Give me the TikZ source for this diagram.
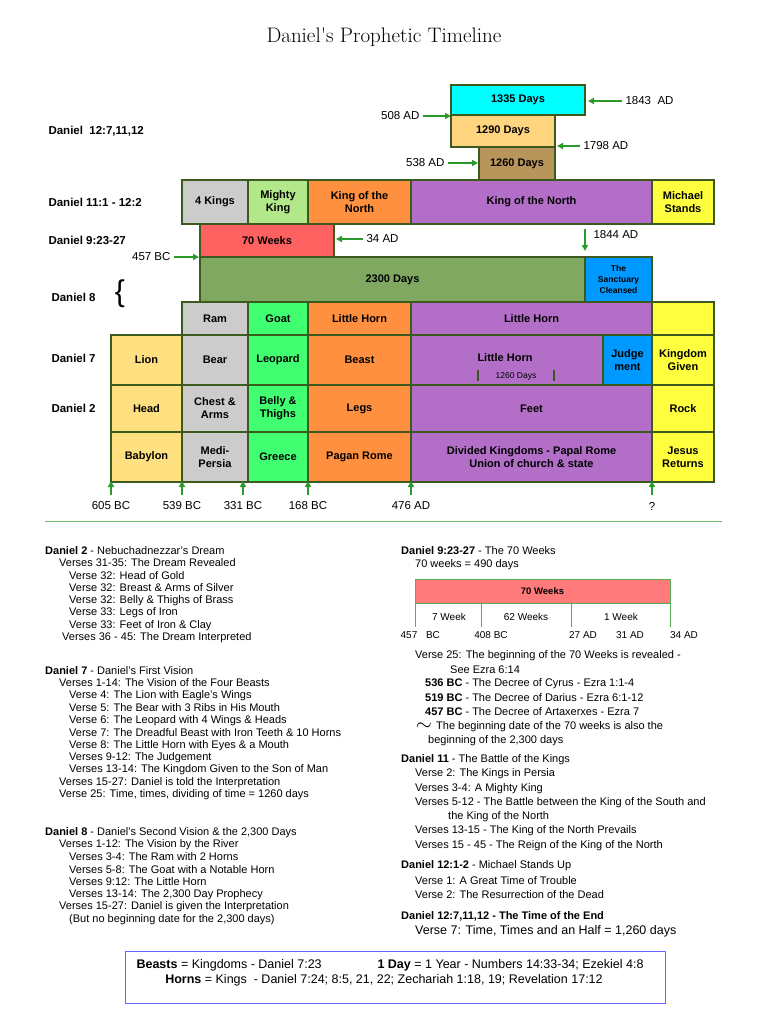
\documentclass[tikz,border=0pt]{standalone}
\usepackage{fontspec}
\setmainfont{Liberation Sans}
\newfontfamily\titlefont{Latin Modern Roman}
\usetikzlibrary{arrows.meta}
\definecolor{edge}{HTML}{3D5A1E}
\definecolor{arr}{HTML}{2A9A2A}
\definecolor{cgray}{HTML}{CCCCCC}
\definecolor{clgreen}{HTML}{B3E88A}
\definecolor{cgreen}{HTML}{40FF70}
\definecolor{corange}{HTML}{FF9040}
\definecolor{cpurple}{HTML}{B36FC8}
\definecolor{cyellow}{HTML}{FFFF40}
\definecolor{cred}{HTML}{FF6060}
\definecolor{colive}{HTML}{80A860}
\definecolor{cblue}{HTML}{0099FF}
\definecolor{clion}{HTML}{FFE080}
\definecolor{ccyan}{HTML}{00FFFF}
\definecolor{cpeach}{HTML}{FFD580}
\definecolor{cbrown}{HTML}{B8955A}
\definecolor{cpink}{HTML}{FF7B7B}
\begin{document}
\begin{tikzpicture}[x=1pt, y=-1pt,
    box/.style={draw=edge, line width=2.2pt},
    lbl/.style={font=\fontsize{11}{13}\selectfont\bfseries, align=center},
    tag/.style={font=\fontsize{11.5}{13}\selectfont},
    side/.style={font=\fontsize{11.5}{13}\selectfont\bfseries, anchor=west},
    body/.style={font=\fontsize{11}{12}\selectfont, anchor=west, inner sep=0pt},
    small/.style={font=\fontsize{10}{11}\selectfont},
    garr/.style={-{Triangle[length=6pt,width=6pt]}, draw=arr, line width=2pt}]

    \useasboundingbox (0,0) rectangle (768,1024);
    \node[font=\titlefont\fontsize{21}{24}\selectfont] (title) at (384,37) {Daniel's Prophetic Timeline};

    % top periods
    \draw[box, fill=ccyan] (451,85) rectangle node[lbl] {1335 Days} (585,115);
    \draw[box, fill=cpeach] (451,115) rectangle node[lbl] {1290 Days} (555,147);
    \draw[box, fill=cbrown] (479,147) rectangle node[lbl] {1260 Days} (555,180);

    % Daniel 11
    \draw[box, fill=cgray] (182,180) rectangle node[lbl] {4 Kings} (248,224);
    \draw[box, fill=clgreen] (248,180) rectangle node[lbl] {Mighty\\King} (308,224);
    \draw[box, fill=corange] (308,180) rectangle node[lbl] {King of the\\North} (411,224);
    \draw[box, fill=cpurple] (411,180) rectangle node[lbl] {King of the North} (652,224);
    \draw[box, fill=cyellow] (652,180) rectangle node[lbl] {Michael\\Stands} (714,224);

    % Daniel 9 and 8
    \draw[box, fill=cred] (200,224) rectangle node[lbl] {70 Weeks} (334,257);
    \draw[box, fill=colive] (200,257) rectangle node[lbl] {2300 Days} (585,302);
    \draw[box, fill=cblue] (585,257) rectangle node[lbl, font=\fontsize{8.5}{11}\selectfont\bfseries] {The\\Sanctuary\\Cleansed} (652,302);
    \draw[box, fill=cgray] (182,302) rectangle node[lbl] {Ram} (248,335);
    \draw[box, fill=cgreen] (248,302) rectangle node[lbl] {Goat} (308,335);
    \draw[box, fill=corange] (308,302) rectangle node[lbl] {Little Horn} (411,335);
    \draw[box, fill=cpurple] (411,302) rectangle node[lbl] {Little Horn} (652,335);
    \draw[box, fill=cyellow] (652,302) rectangle (714,335);

    % Daniel 7
    \draw[box, fill=clion] (111,335) rectangle node[lbl] {Lion} (182,385);
    \draw[box, fill=cgray] (182,335) rectangle node[lbl] {Bear} (248,385);
    \draw[box, fill=cgreen] (248,335) rectangle node[lbl] {Leopard} (308,385);
    \draw[box, fill=corange] (308,335) rectangle node[lbl] {Beast} (411,385);
    \draw[box, fill=cpurple] (411,335) rectangle (603,385);
    \node[lbl] (horn) at (505,358) {Little Horn};
    \node[tag, font=\fontsize{8.5}{10}\selectfont] (days) at (516,376) {1260 Days};
    \draw[edge, line width=1.5pt] (478,370) -- (478,381) (554,370) -- (554,381);
    \draw[box, fill=cblue] (603,335) rectangle node[lbl] {Judge\\ment} (652,385);
    \draw[box, fill=cyellow] (652,335) rectangle node[lbl] {Kingdom\\Given} (714,385);

    % Daniel 2
    \draw[box, fill=clion] (111,385) rectangle node[lbl] {Head} (182,432);
    \draw[box, fill=cgray] (182,385) rectangle node[lbl] {Chest \&\\Arms} (248,432);
    \draw[box, fill=cgreen] (248,385) rectangle node[lbl] {Belly \&\\Thighs} (308,432);
    \draw[box, fill=corange] (308,385) rectangle node[lbl] {Legs} (411,432);
    \draw[box, fill=cpurple] (411,385) rectangle node[lbl] {Feet} (652,432);
    \draw[box, fill=cyellow] (652,385) rectangle node[lbl] {Rock} (714,432);

    % kingdoms
    \draw[box, fill=clion] (111,432) rectangle node[lbl] {Babylon} (182,482);
    \draw[box, fill=cgray] (182,432) rectangle node[lbl] {Medi-\\Persia} (248,482);
    \draw[box, fill=cgreen] (248,432) rectangle node[lbl] {Greece} (308,482);
    \draw[box, fill=corange] (308,432) rectangle node[lbl] {Pagan Rome} (411,482);
    \draw[box, fill=cpurple] (411,432) rectangle node[lbl] {Divided Kingdoms - Papal Rome\\Union of church \& state} (652,482);
    \draw[box, fill=cyellow] (652,432) rectangle node[lbl] {Jesus\\Returns} (714,482);

    % chapter labels
    \node[side] (d12) at (45,131) {Daniel\ \ 12:7,11,12};
    \node[side] (d11) at (45,202) {Daniel 11:1 - 12:2};
    \node[side] (d9) at (45,240) {Daniel 9:23-27};
    \node[side] (d8) at (48,297) {Daniel 8};
    \node[font=\fontsize{30}{30}\selectfont] (brace) at (120,294) {\{};
    \node[side] (d7) at (48,358) {Daniel 7};
    \node[side] (d2) at (48,408) {Daniel 2};

    % dates
    \node[tag, anchor=east] (a508) at (423,116) {508 AD};
    \draw[garr] (a508) -- (451,116);
    \node[tag, anchor=west] (a1843) at (622,101) {1843\ \ AD};
    \draw[garr] (a1843) -- (588,101);
    \node[tag, anchor=west] (a1798) at (580,146) {1798 AD};
    \draw[garr] (a1798) -- (557,146);
    \node[tag, anchor=east] (a538) at (448,163) {538 AD};
    \draw[garr] (a538) -- (478,163);
    \node[tag, anchor=west] (a34) at (363,239) {34 AD};
    \draw[garr] (a34) -- (336,239);
    \node[tag, anchor=west] (a1844) at (590,235) {1844 AD};
    \draw[garr] (585,229) -- (585,251);
    \node[tag, anchor=east] (b457) at (174,257) {457 BC};
    \draw[garr] (b457) -- (199,257);
    \foreach \x/\d in {111/605 BC, 182/539 BC, 243/331 BC, 308/168 BC, 411/476 AD, 652/?}
    {
        \node[tag] (d\x) at (\x,506) {\d};
        \draw[garr] (\x,495) -- (\x,481);
    }

    \draw[arr!70, line width=1pt] (45,521) -- (722,521);

    % left notes
    \foreach \y/\x/\s in {
        551/45/{\textbf{Daniel 2} - Nebuchadnezzar's Dream},
        563/59/{Verses 31-35: The Dream Revealed},
        576/69/{Verse 32: Head of Gold},
        588/69/{Verse 32: Breast \& Arms of Silver},
        601/69/{Verse 32: Belly \& Thighs of Brass},
        613/69/{Verse 33: Legs of Iron},
        626/69/{Verse 33: Feet of Iron \& Clay},
        638/62/{Verses 36 - 45: The Dream Interpreted},
        671/45/{\textbf{Daniel 7} - Daniel's First Vision},
        683/59/{Verses 1-14: The Vision of the Four Beasts},
        696/69/{Verse 4: The Lion with Eagle's Wings},
        708/69/{Verse 5: The Bear with 3 Ribs in His Mouth},
        721/69/{Verse 6: The Leopard with 4 Wings \& Heads},
        733/69/{Verse 7: The Dreadful Beast with Iron Teeth \& 10 Horns},
        746/69/{Verse 8: The Little Horn with Eyes \& a Mouth},
        758/69/{Verses 9-12: The Judgement},
        770/69/{Verses 13-14: The Kingdom Given to the Son of Man},
        783/59/{Verses 15-27: Daniel is told the Interpretation},
        795/59/{Verse 25: Time, times, dividing of time = 1260 days},
        833/45/{\textbf{Daniel 8} - Daniel's Second Vision \& the 2,300 Days},
        845/59/{Verses 1-12: The Vision by the River},
        857/69/{Verses 3-4: The Ram with 2 Horns},
        870/69/{Verses 5-8: The Goat with a Notable Horn},
        882/69/{Verses 9:12: The Little Horn},
        895/69/{Verses 13-14: The 2,300 Day Prophecy},
        907/59/{Verses 15-27: Daniel is given the Interpretation},
        920/69/{(But no beginning date for the 2,300 days)}}
        \node[body] (l\y) at (\x,\y) {\s};

    % right notes
    \foreach \y/\x/\s in {
        551/401/{\textbf{Daniel 9:23-27} - The 70 Weeks},
        565/415/{70 weeks = 490 days},
        656/415/{Verse 25: The beginning of the 70 Weeks is revealed -},
        670/450/{See Ezra 6:14},
        684/425/{\textbf{536 BC} - The Decree of Cyrus - Ezra 1:1-4},
        698/425/{\textbf{519 BC} - The Decree of Darius - Ezra 6:1-12},
        712/425/{\textbf{457 BC} - The Decree of Artaxerxes - Ezra 7},
        727/436/{The beginning date of the 70 weeks is also the},
        741/428/{beginning of the 2,300 days},
        760/401/{\textbf{Daniel 11} - The Battle of the Kings},
        774/415/{Verse 2: The Kings in Persia},
        789/415/{Verses 3-4: A Mighty King},
        803/415/{Verses 5-12 - The Battle between the King of the South and},
        817/448/{the King of the North},
        831/415/{Verses 13-15 - The King of the North Prevails},
        846/415/{Verses 15 - 45 - The Reign of the King of the North},
        866/401/{\textbf{Daniel 12:1-2} - Michael Stands Up},
        881/415/{Verse 1: A Great Time of Trouble},
        895/415/{Verse 2: The Resurrection of the Dead},
        916/401/{\textbf{Daniel 12:7,11,12 - The Time of the End}}}
        \node[body] (r\y) at (\x,\y) {\s};
    \node[body, font=\fontsize{12.5}{14}\selectfont] (r931) at (415,931) {Verse 7: Time, Times and an Half = 1,260 days};
    \node[font=\huge\bfseries] (tilde) at (424,727) {$\sim$};

    % 70 weeks inset
    \draw[draw=arr!80, fill=cpink, line width=1pt] (415,579) rectangle node[lbl, font=\fontsize{9.5}{11}\selectfont\bfseries] {70 Weeks} (670,603);
    \foreach \x in {415,481,571,670}
        \draw[arr!80, line width=1pt] (\x,603) -- (\x,627);
    \node[small] (w7) at (449,617) {7 Week};
    \node[small] (w62) at (526,617) {62 Weeks};
    \node[small] (w1) at (621,617) {1 Week};
    \foreach \x/\d in {409/457, 433/BC, 491/408 BC, 583/27 AD, 630/31 AD, 684/34 AD}
        \node[small] (y\x) at (\x,635) {\d};

    % legend
    \draw[draw=blue!60, line width=1pt] (125,951) rectangle (665,1003);
    \node[font=\fontsize{12.5}{14}\selectfont, anchor=west] (beasts) at (133,965) {\textbf{Beasts} = Kingdoms - Daniel 7:23};
    \node[font=\fontsize{12.5}{14}\selectfont, anchor=west] (oneday) at (374,965) {\textbf{1 Day} = 1 Year - Numbers 14:33-34; Ezekiel 4:8};
    \node[font=\fontsize{12.5}{14}\selectfont] (horns) at (384,980) {\textbf{Horns} = Kings\ \ - Daniel 7:24; 8:5, 21, 22; Zechariah 1:18, 19; Revelation 17:12};

\end{tikzpicture}
\end{document}
